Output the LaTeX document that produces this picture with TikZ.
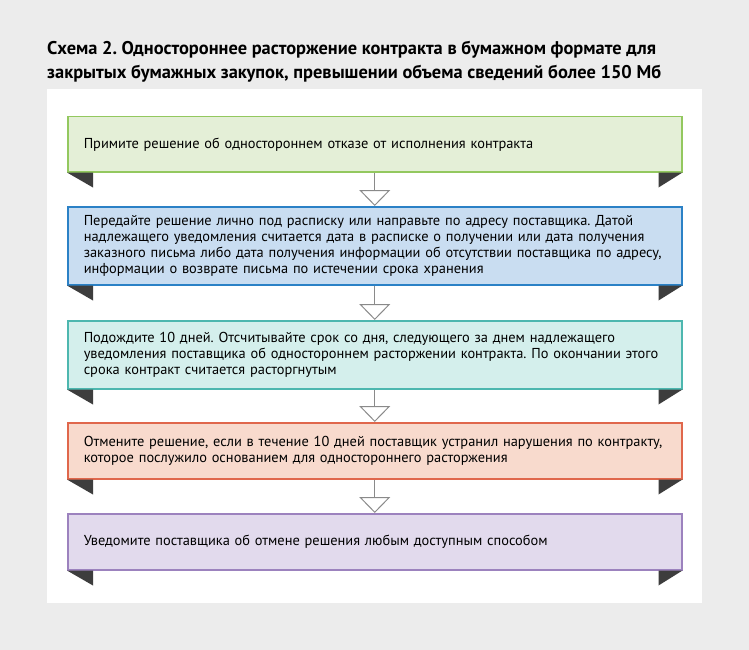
\documentclass[tikz,border=0pt]{standalone}
\usepackage{fontspec}
\setmainfont{PT Sans}
\usetikzlibrary{arrows.meta}
\frenchspacing

\definecolor{pagegray}{HTML}{ECECEC}
\definecolor{tabgray}{HTML}{3D3D3D}
\definecolor{linegray}{HTML}{8A8A8A}
\definecolor{greenfill}{HTML}{E4EFD7}
\definecolor{greenline}{HTML}{93C85F}
\definecolor{bluefill}{HTML}{C9DDF1}
\definecolor{blueline}{HTML}{2B81C6}
\definecolor{tealfill}{HTML}{D4EFEC}
\definecolor{tealline}{HTML}{4DB7AF}
\definecolor{redfill}{HTML}{F8DACD}
\definecolor{redline}{HTML}{E0674C}
\definecolor{lilacfill}{HTML}{E2DAED}
\definecolor{lilacline}{HTML}{9C82BE}

\tikzset{
  stepbox/.style={draw, line width=1.5pt, anchor=north west, align=left,
    text width=582pt, inner xsep=16pt, inner ysep=0pt, minimum height=#1,
    font=\fontsize{14.4}{16}\selectfont},
  flowarrow/.style={draw=linegray, line width=1pt,
    -{Triangle[length=16pt, width=31pt, fill=white]}},
  titletext/.style={anchor=base west, align=left, inner sep=0pt,
    font=\fontsize{18.4}{24}\selectfont\bfseries}
}

\begin{document}
\begin{tikzpicture}[x=1pt, y=-1pt]
%Background and panel
\fill[pagegray] (0,0) rectangle (749,650);
\fill[white] (47,89) rectangle (702,603);

%Title
\node[titletext] (title) at (47,79) {Схема 2. Одностороннее расторжение контракта в бумажном формате для\\закрытых бумажных закупок, превышении объема сведений более 150 Мб};

%Steps
\node[stepbox=55pt, fill=greenfill, draw=greenline] (decide) at (67,116) {Примите решение об одностороннем отказе от исполнения контракта};
\node[stepbox=78pt, fill=bluefill, draw=blueline] (handover) at (67,206) {Передайте решение лично под расписку или направьте по адресу поставщика. Датой\\надлежащего уведомления считается дата в расписке о получении или дата получения\\заказного письма либо дата получения информации об отсутствии поставщика по адресу,\\информации о возврате письма по истечении срока хранения};
\node[stepbox=68pt, fill=tealfill, draw=tealline] (wait) at (67,320) {Подождите 10 дней. Отсчитывайте срок со дня, следующего за днем надлежащего\\уведомления поставщика об одностороннем расторжении контракта. По окончании этого\\срока контракт считается расторгнутым};
\node[stepbox=56pt, fill=redfill, draw=redline] (cancel) at (67,422) {Отмените решение, если в течение 10 дней поставщик устранил нарушения по контракту,\\которое послужило основанием для одностороннего расторжения};
\node[stepbox=56pt, fill=lilacfill, draw=lilacline] (notify) at (67,513) {Уведомите поставщика об отмене решения любым доступным способом};

%Folded corners
\foreach \n in {decide,handover,wait,cancel,notify}{
  \fill[tabgray] (\n.south west) -- ++(26,0) -- ++(0,15) -- cycle;
  \fill[tabgray] (\n.south east) -- ++(-24,0) -- ++(0,15) -- cycle;
}

%Arrows
\draw[flowarrow] (decide) -- (handover);
\draw[flowarrow] (handover) -- (wait);
\draw[flowarrow] (wait) -- (cancel);
\draw[flowarrow] (cancel) -- (notify);
\end{tikzpicture}
\end{document}
